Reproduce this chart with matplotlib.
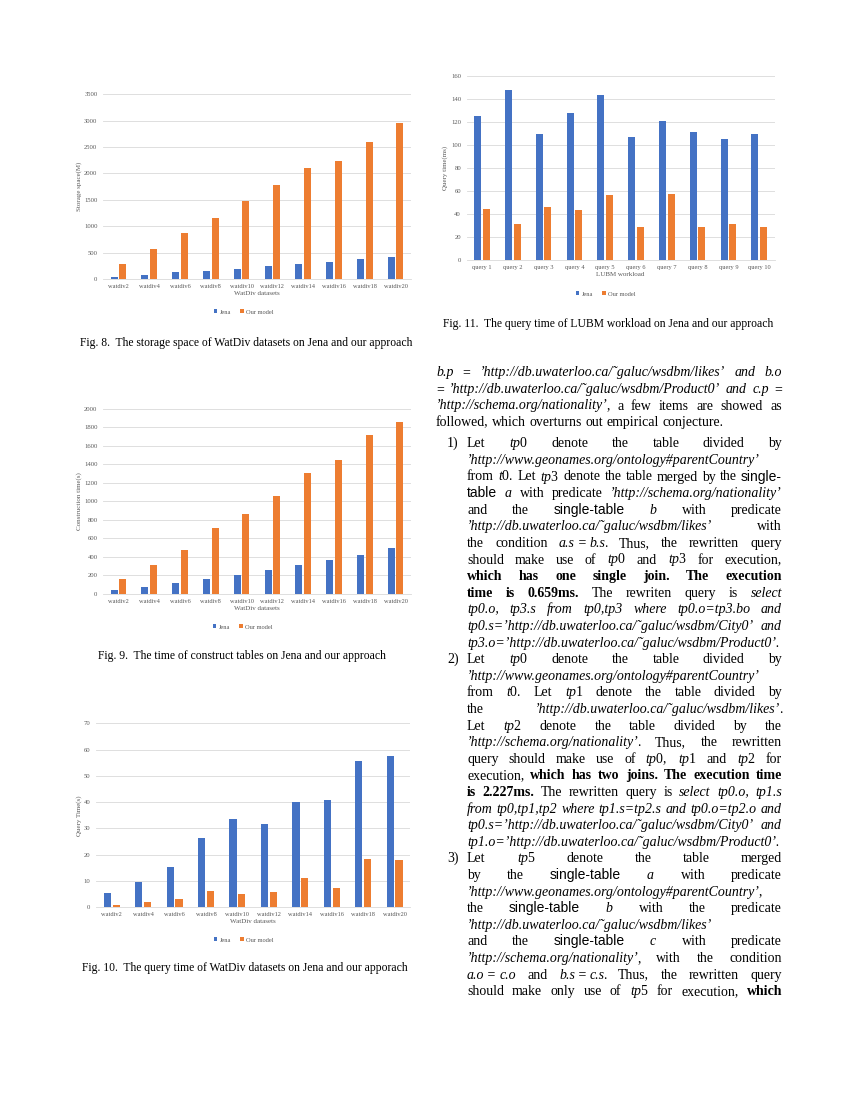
import re
import numpy as np
import matplotlib
matplotlib.use('Agg')
import matplotlib.pyplot as plt
from matplotlib.transforms import IdentityTransform

W, H = 850, 1100

datasets = ['watdiv2', 'watdiv4', 'watdiv6', 'watdiv8', 'watdiv10',
            'watdiv12', 'watdiv14', 'watdiv16', 'watdiv18', 'watdiv20']
queries = ['query 1', 'query 2', 'query 3', 'query 4', 'query 5',
           'query 6', 'query 7', 'query 8', 'query 9', 'query 10']

storage_jena = [44, 82, 126, 158, 196, 253, 284, 328, 385, 417]
storage_ours = [288, 575, 880, 1165, 1480, 1782, 2095, 2245, 2595, 2955]

construct_jena = [36, 72, 112, 158, 198, 252, 306, 360, 418, 490]
construct_ours = [155, 306, 468, 706, 861, 1056, 1308, 1449, 1712, 1858]

watdiv_query_jena = [5.3, 9.8, 15.2, 26.4, 33.5, 31.6, 40.1, 40.7, 55.5, 57.6]
watdiv_query_ours = [0.8, 2.0, 3.2, 6.2, 4.9, 5.8, 11.2, 7.4, 18.5, 18.0]

lubm_query_jena = [125, 148, 109, 128, 143, 107, 121, 111, 105, 109]
lubm_query_ours = [44, 31, 46, 43, 56, 28.5, 57, 29, 31, 28.5]

BLUE = '#4472C4'
ORANGE = '#ED7D31'
GRID = '#d9d9d9'
TICK = '#595959'

plt.rcParams['font.family'] = ['Liberation Serif', 'DejaVu Serif']
plt.rcParams['mathtext.fontset'] = 'custom'
plt.rcParams['mathtext.rm'] = 'Liberation Serif'
plt.rcParams['mathtext.it'] = 'Liberation Serif:italic'
plt.rcParams['mathtext.bf'] = 'Liberation Serif:bold'

fig = plt.figure(figsize=(W / 100, H / 100), dpi=100)


def bar_chart(box, cats, jena, ours, ymax, ystep, ylabel, xlabel,
              ylabel_x, legend_xy, caption, caption_xy):
    left, top, right, bottom = box
    ax = fig.add_axes([left / W, 1 - bottom / H, (right - left) / W, (bottom - top) / H])
    x = np.arange(len(cats))
    ax.bar(x - 0.14, jena, 0.23, color=BLUE, label='Jena', zorder=3)
    ax.bar(x + 0.14, ours, 0.23, color=ORANGE, label='Our model', zorder=3)
    ax.set_xlim(-0.5, len(cats) - 0.5)
    ax.set_ylim(0, ymax)
    ax.set_yticks(np.arange(0, ymax + ystep / 2, ystep))
    ax.set_xticks(x)
    ax.set_xticklabels(cats)
    ax.grid(axis='y', color=GRID, linewidth=0.6, zorder=0)
    for s in ['top', 'right', 'left']:
        ax.spines[s].set_visible(False)
    ax.spines['bottom'].set_color(GRID)
    ax.spines['bottom'].set_linewidth(0.6)
    ax.tick_params(axis='x', length=0, labelsize=4.6, labelcolor=TICK, pad=3.5)
    ax.tick_params(axis='y', length=0, labelsize=4.8, labelcolor=TICK, pad=4)
    ax.set_xlabel(xlabel, fontsize=5, color=TICK, labelpad=1.5)
    ax.set_ylabel(ylabel, fontsize=5, color=TICK)
    ax.yaxis.set_label_coords((ylabel_x - left) / (right - left), 0.5)
    ax.legend(loc='center', bbox_to_anchor=(legend_xy[0] / W, 1 - legend_xy[1] / H),
              bbox_transform=fig.transFigure, ncol=2, frameon=False, fontsize=4.6,
              handlelength=0.5, handleheight=0.5, handletextpad=0.4,
              columnspacing=1.4, labelcolor=TICK)
    fig.text(caption_xy[0] / W, 1 - caption_xy[1] / H, caption, fontsize=8.4,
             ha='center', va='center')
    return ax


bar_chart((103, 94.3, 411, 279), datasets, storage_jena, storage_ours, 3500, 500,
          'Storage space(M)', 'WatDiv datasets', 82, (244, 312),
          'Fig. 8.  The storage space of WatDiv datasets on Jena and our approach', (246, 343))
bar_chart((466.6, 75.7, 774.6, 260), queries, lubm_query_jena, lubm_query_ours, 160, 20,
          'Query time(ms)', 'LUBM workload', 447.5, (606, 294),
          'Fig. 11.  The query time of LUBM workload on Jena and our approach', (608, 324))
bar_chart((103, 408.7, 411, 593.7), datasets, construct_jena, construct_ours, 2000, 200,
          'Construction time(s)', 'WatDiv datasets', 82, (243, 627),
          'Fig. 9.  The time of construct tables on Jena and our approach', (242, 656))
bar_chart((96, 723.3, 410.3, 907.3), datasets, watdiv_query_jena, watdiv_query_ours, 70, 10,
          'Query Time(s)', 'WatDiv datasets', 82, (244, 940),
          'Fig. 10.  The query time of WatDiv datasets on Jena and our apporach', (245, 968))

# right column text: {italic} <bold> $math$ [sans], ~ = unbreakable space
para_lines = [
    ("{b.p} = {’http://db.uwaterloo.ca/˜galuc/wsdbm/likes’} {and} {b.o}", True),
    ("= {’http://db.uwaterloo.ca/˜galuc/wsdbm/Product0’} {and} {c.p} =", True),
    ("{’http://schema.org/nationality’}, a few items are showed as", True),
    ("followed, which overturns out empirical conjecture.", False),
]

item_lines = [
    ("1)", "Let $tp0$ denote the table divided by", True),
    ("", "{’http://www.geonames.org/ontology#parentCountry’}", False),
    ("", "from $t0$. Let $tp3$ denote the table merged by the [single-]", True),
    ("", "[table] $a$ with predicate {’http://schema.org/nationality’}", True),
    ("", "and the [single-table] $b$ with predicate", True),
    ("", "{’http://db.uwaterloo.ca/˜galuc/wsdbm/likes’} with", True),
    ("", "the condition {a.s}~=~{b.s}. Thus, the rewritten query", True),
    ("", "should make use of $tp0$ and $tp3$ for execution,", True),
    ("", "<which has one single join. The execution>", True),
    ("", "<time is 0.659ms.> The rewriten query is {select}", True),
    ("", "{tp0.o, tp3.s from tp0,tp3 where tp0.o=tp3.bo and}", True),
    ("", "{tp0.s=’http://db.uwaterloo.ca/˜galuc/wsdbm/City0’ and}", True),
    ("", "{tp3.o=’http://db.uwaterloo.ca/˜galuc/wsdbm/Product0’.}", False),
    ("2)", "Let $tp0$ denote the table divided by", True),
    ("", "{’http://www.geonames.org/ontology#parentCountry’}", False),
    ("", "from $t0$. Let $tp1$ denote the table divided by", True),
    ("", "the {’http://db.uwaterloo.ca/˜galuc/wsdbm/likes’}.", True),
    ("", "Let $tp2$ denote the table divided by the", True),
    ("", "{’http://schema.org/nationality’}. Thus, the rewritten", True),
    ("", "query should make use of $tp0$, $tp1$ and $tp2$ for", True),
    ("", "execution, <which has two joins. The execution time>", True),
    ("", "<is 2.227ms.> The rewritten query is {select tp0.o, tp1.s}", True),
    ("", "{from tp0,tp1,tp2 where tp1.s=tp2.s and tp0.o=tp2.o and}", True),
    ("", "{tp0.s=’http://db.uwaterloo.ca/˜galuc/wsdbm/City0’ and}", True),
    ("", "{tp1.o=’http://db.uwaterloo.ca/˜galuc/wsdbm/Product0’.}", False),
    ("3)", "Let $tp5$ denote the table merged", True),
    ("", "by the [single-table] $a$ with predicate", True),
    ("", "{’http://www.geonames.org/ontology#parentCountry’},", False),
    ("", "the [single-table] $b$ with the predicate", True),
    ("", "{’http://db.uwaterloo.ca/˜galuc/wsdbm/likes’}", False),
    ("", "and the [single-table] $c$ with predicate", True),
    ("", "{’http://schema.org/nationality’}, with the condition", True),
    ("", "{a.o}~=~{c.o} and {b.s}~=~{c.s}. Thus, the rewritten query", True),
    ("", "should make only use of $tp5$ for execution, <which>", True),
]

STYLES = {
    'r': dict(family='Liberation Serif'),
    'i': dict(family='Liberation Serif', style='italic'),
    'b': dict(family='Liberation Serif', weight='bold'),
    's': dict(family='Liberation Sans'),
}
BODY_SIZE = 10
SPACE = 3.5
ident = IdentityTransform()
renderer = fig.canvas.get_renderer()


def parse(markup):
    chars = []
    for part in re.split(r'(\{[^}]*\}|<[^>]*>|\$[^$]*\$|\[[^\]]*\])', markup):
        if not part:
            continue
        if part[0] == '{':
            chars += [(c, 'i') for c in part[1:-1]]
        elif part[0] == '<':
            chars += [(c, 'b') for c in part[1:-1]]
        elif part[0] == '[':
            chars += [(c, 's') for c in part[1:-1]]
        elif part[0] == '$':
            chars.append((part, 'r'))  # math kept whole
        else:
            chars += [(c, 'r') for c in part]
    words, cur = [], []
    for c, st in chars:
        if c == ' ':
            if cur:
                words.append(cur)
                cur = []
        elif cur and cur[-1][1] == st:
            cur[-1][0] += c
        else:
            cur.append([c, st])
    if cur:
        words.append(cur)
    return words


def draw_line(markup, x0, x1, yc, justify):
    placed = []
    for word in parse(markup):
        runs, wsum, prev = [], 0, None
        for s, st in word:
            if prev == 'i' and st == 'r' and not s.startswith('~'):
                wsum -= 1.5
            t = fig.text(0, 0, s.replace('~', ' '), fontsize=BODY_SIZE, transform=ident,
                         va='baseline', ha='left', **STYLES[st])
            runs.append((t, wsum))
            wsum += t.get_window_extent(renderer).width
            prev = st
        placed.append((runs, wsum))
    total = sum(p[1] for p in placed)
    n = len(placed)
    gap = (x1 - x0 - total) / (n - 1) if justify and n > 1 else SPACE
    gap = max(gap, 2.0)
    x = x0
    yb = H - (yc + 4.6)
    for runs, wsum in placed:
        for t, off in runs:
            t.set_position((x + off, yb))
        x += wsum + gap


for i, (markup, just) in enumerate(para_lines):
    draw_line(markup, 436, 782, 371.7 + 16.6 * i, just)

for k, (num, markup, just) in enumerate(item_lines):
    yc = 442.7 + 16.6 * k
    if num:
        fig.text(447, H - (yc + 4.6), num, fontsize=BODY_SIZE, transform=ident,
                 va='baseline', ha='left')
    draw_line(markup, 467, 782, yc, just)

fig.savefig('out.png', dpi=100)
